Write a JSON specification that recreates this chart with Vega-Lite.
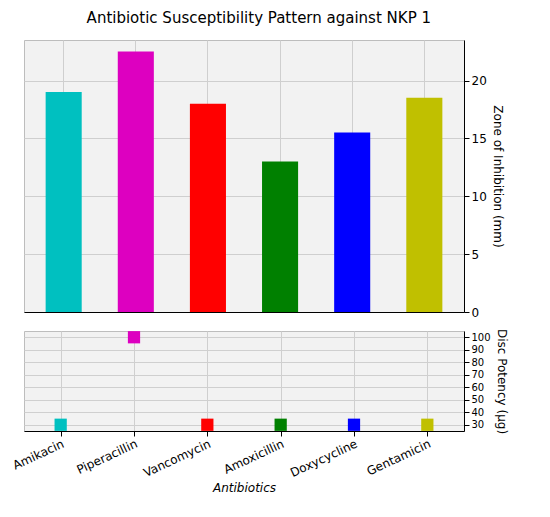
{
  "$schema": "https://vega.github.io/schema/vega-lite/v6.json",
  "padding": {"left": 10, "right": 6, "top": 10, "bottom": 6},
  "title": {
    "text": "Antibiotic Susceptibility Pattern against NKP 1",
    "font": "DejaVu Sans",
    "fontSize": 15,
    "fontWeight": "normal",
    "color": "#000000",
    "anchor": "middle",
    "offset": 14
  },
  "data": {
    "values": [
      {"antibiotic": "Amikacin", "potency": 30, "zone": 19},
      {"antibiotic": "Piperacillin", "potency": 100, "zone": 22.5},
      {"antibiotic": "Vancomycin", "potency": 30, "zone": 18},
      {"antibiotic": "Amoxicillin", "potency": 30, "zone": 13},
      {"antibiotic": "Doxycycline", "potency": 30, "zone": 15.5},
      {"antibiotic": "Gentamicin", "potency": 30, "zone": 18.5}
    ]
  },
  "vconcat": [
    {
      "width": 440,
      "height": 272,
      "mark": {"type": "bar"},
      "encoding": {
        "x": {
          "field": "antibiotic",
          "type": "nominal",
          "sort": null,
          "scale": {"paddingInner": 0.5, "paddingOuter": 0.3},
          "axis": {"title": null, "labels": false, "ticks": false}
        },
        "y": {
          "field": "zone",
          "type": "quantitative",
          "scale": {"domain": [0, 23.5]},
          "axis": {"title": "Zone of Inhibition (mm)", "orient": "right", "values": [0, 5, 10, 15, 20]}
        },
        "color": {
          "field": "antibiotic",
          "type": "nominal",
          "sort": null,
          "scale": {
            "domain": ["Amikacin", "Piperacillin", "Vancomycin", "Amoxicillin", "Doxycycline", "Gentamicin"],
            "range": ["#00c0c0", "#dd00c0", "#ff0000", "#008000", "#0000ff", "#c0c000"]
          },
          "legend": null
        },
        "tooltip": [
          {"field": "antibiotic", "type": "nominal", "title": "Antibiotics"},
          {"field": "potency", "type": "quantitative", "title": "Disc Potency (µg)"},
          {"field": "zone", "type": "quantitative", "title": "Zone of Inhibition (mm)"}
        ]
      }
    },
    {
      "width": 440,
      "height": 100,
      "mark": {"type": "square", "size": 150, "opacity": 1},
      "encoding": {
        "x": {
          "field": "antibiotic",
          "type": "nominal",
          "sort": null,
          "scale": {"paddingInner": 0.5, "paddingOuter": 0.3},
          "axis": {"title": "Antibiotics", "labelAngle": -25, "titleFontStyle": "italic", "titlePadding": 4}
        },
        "y": {
          "field": "potency",
          "type": "quantitative",
          "scale": {"domain": [25, 105]},
          "axis": {"title": "Disc Potency (µg)", "orient": "right", "values": [30, 40, 50, 60, 70, 80, 90, 100], "labelFontSize": 10}
        },
        "color": {
          "field": "antibiotic",
          "type": "nominal",
          "sort": null,
          "scale": {
            "domain": ["Amikacin", "Piperacillin", "Vancomycin", "Amoxicillin", "Doxycycline", "Gentamicin"],
            "range": ["#00c0c0", "#dd00c0", "#ff0000", "#008000", "#0000ff", "#c0c000"]
          },
          "legend": null
        },
        "tooltip": [
          {"field": "antibiotic", "type": "nominal", "title": "Antibiotics"},
          {"field": "potency", "type": "quantitative", "title": "Disc Potency (µg)"}
        ]
      }
    }
  ],
  "spacing": 8,
  "config": {
    "font": "DejaVu Sans",
    "view": {"fill": "#f2f2f2", "stroke": "#bdbdbd"},
    "axis": {
      "labelFont": "DejaVu Sans",
      "titleFont": "DejaVu Sans",
      "labelFontSize": 12,
      "titleFontSize": 12,
      "titleFontWeight": "normal",
      "labelColor": "#000000",
      "titleColor": "#000000",
      "domainColor": "#000000",
      "tickColor": "#000000",
      "gridColor": "#cfcfcf",
      "grid": true
    }
  }
}
